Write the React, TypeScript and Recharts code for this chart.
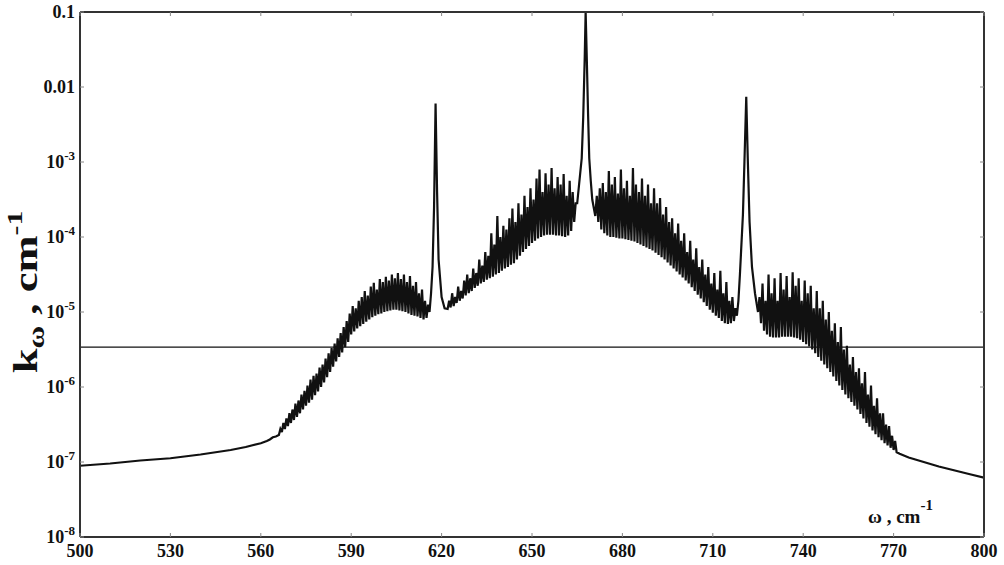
import React from 'react';
import { LineChart, Line, XAxis, YAxis, ReferenceLine } from 'recharts';

// smooth parts of the spectrum: [omega (cm-1), log10 k]
const LEFT_WING: [number, number][] = [
    [500, -7.05], [510, -7.02], [520, -6.98], [530, -6.95], [540, -6.9], [550, -6.84],
    [555, -6.8], [560, -6.75], [562, -6.72], [563, -6.7], [564, -6.67], [565, -6.66],
];

const PEAK_618: [number, number][] = [
    [617, -4.4], [617.5, -3.6], [618, -2.22], [618.5, -3.4], [619, -4.3], [620, -4.8], [621, -4.95],
];

const PEAK_668: [number, number][] = [
    [665, -3.55], [666, -3.15], [666.5, -2.95], [667, -2.4], [667.5, -1.6], [667.8, -1.0],
    [668.2, -1.65], [668.6, -2.35], [669, -2.95], [669.5, -3.25], [670, -3.5],
];

const PEAK_721: [number, number][] = [
    [719, -4.5], [720, -3.7], [720.5, -3.0], [721.1, -2.13], [721.6, -2.95], [722.2, -3.8],
    [723, -4.4], [724, -4.75],
];

const RIGHT_WING: [number, number][] = [
    [771, -6.87], [772, -6.89], [775, -6.94], [780, -7.0], [785, -7.06], [790, -7.11],
    [795, -7.16], [800, -7.21],
];

// line-rich bands: [omega, log10 k at the line floor, log10 k at the line top (omega + 0.5)]
const P_BAND: [number, number, number][] = [
    [566, -6.64, -6.56], [567, -6.6, -6.48], [568, -6.56, -6.42], [569, -6.52, -6.35],
    [570, -6.48, -6.3], [571, -6.44, -6.22], [572, -6.4, -6.18], [573, -6.35, -6.1],
    [574, -6.3, -6.05], [575, -6.25, -5.98], [576, -6.21, -5.9], [577, -6.17, -5.85],
    [578, -6.11, -5.82], [579, -6.06, -5.74], [580, -6.0, -5.7], [581, -5.94, -5.62],
    [582, -5.87, -5.55], [583, -5.8, -5.48], [584, -5.73, -5.42], [585, -5.66, -5.35],
    [586, -5.6, -5.28], [587, -5.54, -5.2], [588, -5.47, -5.12], [589, -5.4, -5.02],
    [590, -5.3, -4.92], [591, -5.26, -4.95], [592, -5.22, -4.85], [593, -5.19, -4.8],
    [594, -5.16, -4.72], [595, -5.13, -4.78], [596, -5.1, -4.66], [597, -5.07, -4.61],
    [598, -5.05, -4.7], [599, -5.03, -4.56], [600, -5.02, -4.6], [601, -5.0, -4.53],
    [602, -4.99, -4.58], [603, -4.98, -4.5], [604, -4.97, -4.55], [605, -4.97, -4.48],
    [606, -4.98, -4.56], [607, -4.99, -4.5], [608, -5.0, -4.6], [609, -5.02, -4.52],
    [610, -5.04, -4.65], [611, -5.05, -4.6], [612, -5.06, -4.75], [613, -5.08, -4.7],
    [614, -5.1, -4.85], [615, -5.08, -4.9], [616, -5.0, -4.75],
];

const Q_RISE: [number, number, number][] = [
    [622, -4.96, -4.85], [623, -4.94, -4.75], [624, -4.92, -4.8], [625, -4.88, -4.66],
    [626, -4.85, -4.72], [627, -4.82, -4.58], [628, -4.78, -4.5], [629, -4.75, -4.55],
    [630, -4.72, -4.42], [631, -4.68, -4.48], [632, -4.65, -4.3], [633, -4.62, -4.38],
    [634, -4.6, -4.2], [635, -4.57, -4.25], [636, -4.55, -3.95], [637, -4.53, -4.1],
    [638, -4.5, -3.72], [639, -4.48, -4.0], [640, -4.45, -3.85], [641, -4.42, -3.9],
    [642, -4.4, -3.75], [643, -4.37, -3.62], [644, -4.35, -3.8], [645, -4.3, -3.55],
    [646, -4.25, -3.7], [647, -4.2, -3.45], [648, -4.16, -3.6], [649, -4.12, -3.35],
    [650, -4.08, -3.5], [651, -4.05, -3.22], [652, -4.02, -3.1], [653, -4.0, -3.4],
    [654, -3.98, -3.15], [655, -3.97, -3.3], [656, -3.97, -3.08], [657, -3.97, -3.35],
    [658, -3.98, -3.2], [659, -3.98, -3.3], [660, -3.99, -3.16], [661, -4.0, -3.45],
    [662, -3.98, -3.25], [663, -3.92, -3.4], [664, -3.8, -3.55],
];

const R_FALL: [number, number, number][] = [
    [671, -3.72, -3.45], [672, -3.8, -3.35], [673, -3.9, -3.28], [674, -3.95, -3.4],
    [675, -3.98, -3.12], [676, -4.0, -3.3], [677, -4.0, -3.2], [678, -4.01, -3.42],
    [679, -4.02, -3.1], [680, -4.02, -3.35], [681, -4.03, -3.25], [682, -4.04, -3.45],
    [683, -4.05, -3.08], [684, -4.06, -3.3], [685, -4.08, -3.4], [686, -4.1, -3.22],
    [687, -4.12, -3.45], [688, -4.14, -3.3], [689, -4.16, -3.55], [690, -4.18, -3.35],
    [691, -4.21, -3.55], [692, -4.24, -3.48], [693, -4.27, -3.7], [694, -4.3, -3.6],
    [695, -4.34, -3.8], [696, -4.38, -3.75], [697, -4.42, -3.95], [698, -4.46, -3.82],
    [699, -4.5, -4.05], [700, -4.54, -3.95], [701, -4.58, -4.2], [702, -4.62, -4.05],
    [703, -4.67, -4.3], [704, -4.72, -4.15], [705, -4.77, -4.4], [706, -4.82, -4.3],
    [707, -4.87, -4.5], [708, -4.92, -4.4], [709, -4.97, -4.62], [710, -5.01, -4.48],
    [711, -5.05, -4.7], [712, -5.08, -4.45], [713, -5.12, -4.75], [714, -5.15, -4.6],
    [715, -5.16, -4.85], [716, -5.15, -4.8], [717, -5.12, -4.95], [718, -5.05, -4.85],
];

const R_TAIL: [number, number, number][] = [
    [725, -5.0, -4.8], [726, -5.15, -4.62], [727, -5.25, -4.85], [728, -5.3, -4.5],
    [729, -5.33, -4.75], [730, -5.34, -4.55], [731, -5.34, -4.85], [732, -5.34, -4.48],
    [733, -5.33, -4.7], [734, -5.33, -4.52], [735, -5.33, -4.8], [736, -5.33, -4.47],
    [737, -5.34, -4.65], [738, -5.35, -4.55], [739, -5.37, -4.85], [740, -5.4, -4.58],
    [741, -5.43, -4.75], [742, -5.46, -4.65], [743, -5.5, -4.95], [744, -5.55, -4.72],
    [745, -5.6, -4.95], [746, -5.65, -4.85], [747, -5.7, -5.1], [748, -5.75, -5.0],
    [749, -5.8, -5.25], [750, -5.86, -5.15], [751, -5.92, -5.4], [752, -5.98, -5.2],
    [753, -6.04, -5.5], [754, -6.1, -5.45], [755, -6.15, -5.7], [756, -6.2, -5.6],
    [757, -6.25, -5.8], [758, -6.3, -5.75], [759, -6.36, -5.95], [760, -6.42, -5.8],
    [761, -6.48, -6.1], [762, -6.53, -5.98], [763, -6.58, -6.25], [764, -6.63, -6.15],
    [765, -6.67, -6.35], [766, -6.71, -6.35], [767, -6.75, -6.5], [768, -6.78, -6.52],
    [769, -6.81, -6.65], [770, -6.84, -6.72],
];

const X_TICKS = [500, 530, 560, 590, 620, 650, 680, 710, 740, 770, 800];
const Y_TICKS = [1e-8, 1e-7, 1e-6, 1e-5, 1e-4, 1e-3, 0.01, 0.1];
const THRESHOLD = 3.4e-6;

const band = (rows: [number, number, number][]): [number, number][] =>
    rows.flatMap(([w, lo, hi]) => [[w, lo], [w + 0.5, hi]] as [number, number][]);

const data = [
    ...LEFT_WING, ...band(P_BAND), ...PEAK_618, ...band(Q_RISE), ...PEAK_668,
    ...band(R_FALL), ...PEAK_721, ...band(R_TAIL), ...RIGHT_WING,
].map(([w, lg]) => ({ w, k: Math.pow(10, lg) }));

const FONT = '"Liberation Serif", "Times New Roman", serif';
const AXIS = '#333';
const TICK = '#888';

const BottomTick = (props: any) => {
    const { x, y, payload } = props;
    return (
        <g>
            <line x1={x} y1={y} x2={x} y2={y - 4} stroke={TICK} strokeWidth={1} />
            <text x={x} y={y + 20} textAnchor="middle" fontFamily={FONT} fontWeight="bold" fontSize={18} fill="#111">
                {payload.value}
            </text>
        </g>
    );
};

const TopTick = (props: any) => {
    const { x, y } = props;
    return <line x1={x} y1={y} x2={x} y2={y + 4} stroke={TICK} strokeWidth={1} />;
};

const LeftTick = (props: any) => {
    const { x, y, payload } = props;
    const v: number = payload.value;
    const n = Math.round(Math.log10(v));
    return (
        <g>
            <line x1={x} y1={y} x2={x + 4} y2={y} stroke={TICK} strokeWidth={1} />
            <text x={x - 5} y={y + 6} textAnchor="end" fontFamily={FONT} fontWeight="bold" fontSize={18} fill="#111">
                {n >= -2 ? (
                    <tspan>{v}</tspan>
                ) : (
                    <>
                        <tspan>10</tspan>
                        <tspan dy={-8} fontSize={13}>{`-${-n}`}</tspan>
                    </>
                )}
            </text>
        </g>
    );
};

const RightTick = (props: any) => {
    const { x, y } = props;
    return <line x1={x} y1={y} x2={x - 4} y2={y} stroke={TICK} strokeWidth={1} />;
};

export default function App() {
    return (
        <div style={{ position: 'absolute', left: 0, top: 0, width: 1004, height: 565, background: '#fff' }}>
            <LineChart width={1004} height={565} data={data} margin={{ top: 0, right: 0, bottom: 0, left: 0 }}>
                <XAxis
                    dataKey="w"
                    type="number"
                    domain={[500, 800]}
                    ticks={X_TICKS}
                    height={28}
                    tickSize={0}
                    tickMargin={0}
                    axisLine={{ stroke: AXIS, strokeWidth: 2 }}
                    tick={BottomTick}
                    allowDataOverflow
                />
                <XAxis
                    xAxisId="top"
                    orientation="top"
                    dataKey="w"
                    type="number"
                    domain={[500, 800]}
                    ticks={X_TICKS}
                    height={12}
                    tickSize={0}
                    tickMargin={0}
                    axisLine={{ stroke: AXIS, strokeWidth: 2 }}
                    tick={TopTick}
                    allowDataOverflow
                />
                <YAxis
                    type="number"
                    scale="log"
                    domain={[1e-8, 0.1]}
                    ticks={Y_TICKS}
                    width={80}
                    tickSize={0}
                    tickMargin={0}
                    axisLine={{ stroke: AXIS, strokeWidth: 2 }}
                    tick={LeftTick}
                    allowDataOverflow
                />
                <YAxis
                    yAxisId="right"
                    orientation="right"
                    type="number"
                    scale="log"
                    domain={[1e-8, 0.1]}
                    ticks={Y_TICKS}
                    width={20}
                    tickSize={0}
                    tickMargin={0}
                    axisLine={{ stroke: AXIS, strokeWidth: 2 }}
                    tick={RightTick}
                    allowDataOverflow
                />
                <ReferenceLine y={THRESHOLD} stroke="#111" strokeWidth={1.3} />
                <Line
                    dataKey="k"
                    type="linear"
                    stroke="#111"
                    strokeWidth={2.2}
                    strokeLinejoin="miter"
                    strokeMiterlimit={3}
                    dot={false}
                    isAnimationActive={false}
                />
            </LineChart>
            <svg width={1004} height={565} style={{ position: 'absolute', left: 0, top: 0, pointerEvents: 'none' }}>
                <text
                    transform="translate(37, 292) rotate(-90) scale(1.35, 1)"
                    textAnchor="middle"
                    fontFamily={FONT}
                    fontWeight="bold"
                    fontSize={33}
                    fill="#111"
                >
                    <tspan>k</tspan>
                    <tspan dy={7} fontSize={23}>ω</tspan>
                    <tspan dy={-7}> , cm</tspan>
                    <tspan dy={-15} fontSize={22}>-1</tspan>
                </text>
                <text x={868} y={523} fontFamily={FONT} fontWeight="bold" fontSize={19} fill="#111">
                    <tspan>ω , cm</tspan>
                    <tspan dy={-13} fontSize={15}>-1</tspan>
                </text>
            </svg>
        </div>
    );
}
